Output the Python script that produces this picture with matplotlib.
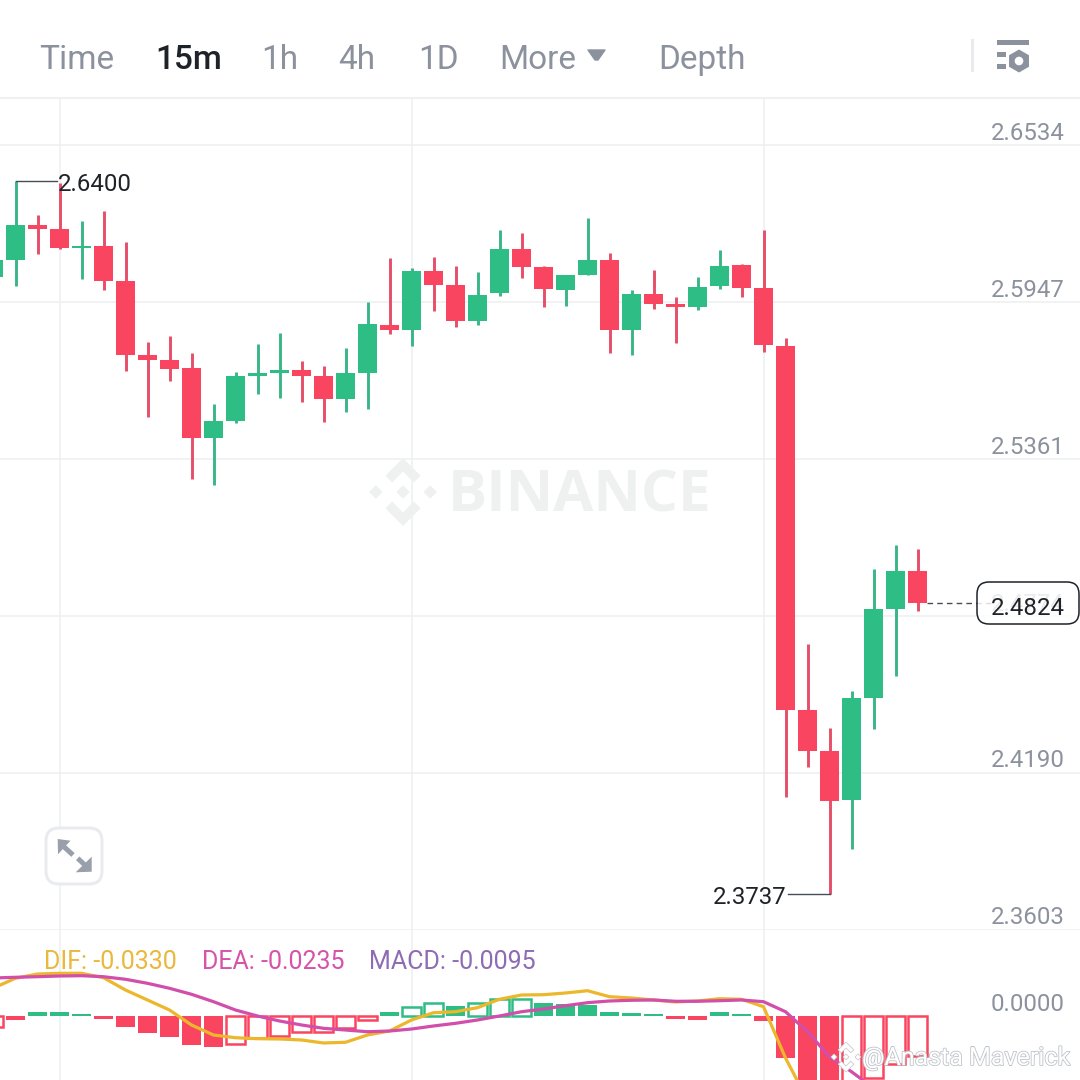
import matplotlib
matplotlib.use('Agg')
import matplotlib.pyplot as plt
from matplotlib.patches import FancyBboxPatch, Polygon, Circle, Rectangle
import matplotlib.patheffects as pe
import numpy as np

# candles, index -1 is the one cut off by the left edge
first_index = -1
opens = [2.6041, 2.6105, 2.6237, 2.6222, 2.6148, 2.6158, 2.6026, 2.5749, 2.5731, 2.5700,
         2.5441, 2.5504, 2.5670, 2.5683, 2.5694, 2.5673, 2.5586, 2.5683, 2.5863, 2.5843,
         2.6062, 2.6011, 2.5876, 2.5981, 2.6146, 2.6080, 2.5994, 2.6050, 2.6104, 2.5843,
         2.5976, 2.5941, 2.5929, 2.6006, 2.6086, 2.5999, 2.5784, 2.4423, 2.4270, 2.4087,
         2.4470, 2.4801, 2.4942]
closes = [2.6105, 2.6235, 2.6222, 2.6151, 2.6158, 2.6026, 2.5751, 2.5730, 2.5699, 2.5441,
          2.5504, 2.5670, 2.5682, 2.5694, 2.5673, 2.5586, 2.5683, 2.5865, 2.5842, 2.6064,
          2.6011, 2.5877, 2.5975, 2.6146, 2.6080, 2.5995, 2.6050, 2.6105, 2.5842, 2.5976,
          2.5940, 2.5928, 2.6005, 2.6083, 2.6000, 2.5786, 2.4424, 2.4272, 2.4086, 2.4470,
          2.4801, 2.4942, 2.4824]
highs = [2.6105, 2.6400, 2.6273, 2.6392, 2.6251, 2.6288, 2.6171, 2.5800, 2.5822, 2.5757,
         2.5567, 2.5686, 2.5791, 2.5832, 2.5728, 2.5709, 2.5775, 2.5949, 2.6113, 2.6074,
         2.6117, 2.6082, 2.6060, 2.6216, 2.6207, 2.6082, 2.6050, 2.6261, 2.6130, 2.5993,
         2.6067, 2.5968, 2.6040, 2.6141, 2.6088, 2.6217, 2.5815, 2.4671, 2.4356, 2.4496,
         2.4950, 2.5040, 2.5027]
lows = [2.6041, 2.6008, 2.6127, 2.6146, 2.6034, 2.5993, 2.5691, 2.5520, 2.5652, 2.5286,
        2.5266, 2.5495, 2.5605, 2.5588, 2.5576, 2.5500, 2.5536, 2.5549, 2.5829, 2.5785,
        2.5914, 2.5856, 2.5863, 2.5971, 2.6037, 2.5930, 2.5934, 2.6050, 2.5756, 2.5750,
        2.5921, 2.5795, 2.5919, 2.5998, 2.5968, 2.5762, 2.4098, 2.4212, 2.3737, 2.3905,
        2.4352, 2.4552, 2.4794]

price_ticks = [2.6534, 2.5947, 2.5361, 2.4774, 2.4190, 2.3603]
price_labels = ['2.6534', '2.5947', '2.5361', '2.4774', '2.4190', '2.3603']
time_grid = [2, 18, 34]

# macd panel
macd_hist = [-0.00245, -0.00084, 0.00101, 0.00101, 0.00060, -0.00053, -0.00245, -0.00404,
             -0.00486, -0.00685, -0.00741, -0.00661, -0.00524, -0.00462, -0.00366, -0.00366,
             -0.00284, -0.00084, 0.00101, 0.00236, 0.00332, 0.00260, 0.00317, 0.00414,
             0.00414, 0.00317, 0.00293, 0.00277, 0.00115, 0.00077, 0.00067, -0.00060,
             -0.00091, 0.00101, 0.00067, -0.00115, -0.01005, -0.0201, -0.0237, -0.0189,
             -0.0149, -0.01142, -0.0095]
hollow_bars = [-1, 10, 11, 12, 13, 14, 15, 16, 18, 19, 21, 22, 23, 38, 39, 40, 41]
dif = [0.00685, 0.00919, 0.01022, 0.01039, 0.01039, 0.00933, 0.00637, 0.00397, 0.00156,
       -0.00204, -0.00445, -0.00510, -0.00534, -0.00541, -0.00565, -0.00637, -0.00620,
       -0.00445, -0.00349, -0.00084, 0.00091, 0.00115, 0.00212, 0.00414, 0.00517, 0.00524,
       0.00565, 0.00620, 0.00476, 0.00445, 0.00397, 0.00349, 0.00373, 0.00428, 0.00414,
       0.00236, -0.00998, -0.0201, -0.0285, -0.0357, -0.0381, -0.0357, -0.0330]
dea = [0.00926, 0.00943, 0.00957, 0.00974, 0.00981, 0.00957, 0.00895, 0.00798, 0.00678,
       0.00534, 0.00356, 0.00156, 0.00012, -0.00108, -0.00204, -0.00284, -0.00325, -0.00366,
       -0.00349, -0.00301, -0.00228, -0.00164, -0.00084, 0.00012, 0.00115, 0.00180, 0.00260,
       0.00332, 0.00373, 0.00390, 0.00397, 0.00366, 0.00366, 0.00380, 0.00397, 0.00356,
       0.00115, -0.00366, -0.00967, -0.01328, -0.01720, -0.02056, -0.0235]

tabs = ['Time', '15m', '1h', '4h', '1D', 'More', 'Depth']
tab_x = [39, 155, 261, 338, 418, 499, 658]

GREEN = '#2EBD85'
RED = '#F9455F'
GREY = '#8B929E'
DARK = '#1E2329'
GRID = '#EFF0F2'
FONT = 'Roboto'

plt.rcParams['font.family'] = FONT

idx = np.arange(len(opens)) + first_index
opens = np.array(opens)
closes = np.array(closes)
highs = np.array(highs)
lows = np.array(lows)
colors = [GREEN if c >= o else RED for o, c in zip(opens, closes)]
wick_colors = ['#3AB587' if c >= o else '#E64F69' for o, c in zip(opens, closes)]

fig = plt.figure(figsize=(10.8, 10.8), dpi=100, facecolor='white')
ax = fig.add_axes([0, 150 / 1080, 1, 832 / 1080])
ax2 = fig.add_axes([0, 0, 1, 150 / 1080])
over = fig.add_axes([0, 0, 1, 1], facecolor='none')
over.set_xlim(0, 1080)
over.set_ylim(1080, 0)
over.axis('off')

xlim = (-15.5 / 22, (1080 - 15.5) / 22)
for a in (ax, ax2):
    a.set_xlim(xlim)
    a.set_xticks(time_grid)
    a.tick_params(length=0, labelbottom=False, labelleft=False)
    a.grid(True, color=GRID, lw=1.2)
    a.set_axisbelow(True)
    for s in a.spines.values():
        s.set_visible(False)
ax.set_ylim(2.3603, 2.67095)
ax.set_yticks(price_ticks)
ax2.set_ylim(-0.01527, 0.0208)
ax2.set_yticks([])

# watermark sits under the candles
def logo(axis, cx, cy, r, color, **kw):
    shapes = [[(0, -1), (.52, -.48), (.32, -.28), (0, -.6), (-.32, -.28), (-.52, -.48)],
              [(0, 1), (.52, .48), (.32, .28), (0, .6), (-.32, .28), (-.52, .48)],
              [(-1, 0), (-.8, -.2), (-.6, 0), (-.8, .2)],
              [(1, 0), (.8, -.2), (.6, 0), (.8, .2)],
              [(0, -.2), (.2, 0), (0, .2), (-.2, 0)]]
    for sh in shapes:
        pts = [(cx + r * px, cy + r * py) for px, py in sh]
        axis.add_patch(Polygon(pts, closed=True, facecolor=color, transform=over.transData, clip_on=False, **kw))

logo(ax, 403, 492, 34, '#EEF1F0', zorder=1, edgecolor='none')
ax.text(580, 497, 'BINANCE', transform=over.transData, ha='center', va='center', fontsize=42,
        fontweight='bold', family='Open Sans', color='#EEF1F0', zorder=1)

# candles
ax.vlines(idx, lows, highs, colors=wick_colors, lw=2.1, zorder=3)
ax.bar(idx, np.abs(closes - opens), bottom=np.minimum(opens, closes), width=0.875, color=colors,
       linewidth=0, zorder=4)

# high / low markers
hi = int(np.argmax(highs))
lo = int(np.argmin(lows))
ax.plot([idx[hi], idx[hi] + 1.9], [highs[hi], highs[hi]], color='#474D57', lw=1, zorder=5)
ax.annotate('%.4f' % highs[hi], (idx[hi] + 1.93, highs[hi]), xytext=(0, -4), textcoords='offset pixels',
            ha='left', va='center', fontsize=17.3, color=DARK, zorder=6)
ax.plot([idx[lo] - 1.9, idx[lo]], [lows[lo], lows[lo]], color='#474D57', lw=1, zorder=5)
ax.annotate('%.4f' % lows[lo], (idx[lo] - 1.95, lows[lo]), xytext=(0, -3), textcoords='offset pixels',
            ha='right', va='center', fontsize=17.3, color=DARK, zorder=6)

# price labels on the right, above their grid line
for t, lab in zip(price_ticks, price_labels):
    ax.annotate(lab, (1, t), xycoords=('axes fraction', 'data'), xytext=(-15, 12),
                textcoords='offset pixels', ha='right', va='center', fontsize=17.3, color=GREY, zorder=2,
                annotation_clip=False)

# last price line and box
ax.plot([idx[-1] + 0.43, 44.4], [closes[-1], closes[-1]], color='#474D57', lw=1, ls=(0, (4, 3)), zorder=5)
ax.add_patch(FancyBboxPatch((987, 592), 82, 22, boxstyle='round,pad=10,rounding_size=12', transform=over.transData,
                            facecolor=(1, 1, 1, 0.82), edgecolor=DARK, lw=1.1, clip_on=False, zorder=7))
ax.annotate('%.4f' % closes[-1], (1, closes[-1]), xycoords=('axes fraction', 'data'), xytext=(-15, -6),
            textcoords='offset pixels', ha='right', va='center', fontsize=17.3, color=DARK, zorder=8,
            annotation_clip=False)

# macd histogram
for i, v in zip(idx, macd_hist):
    c = GREEN if v > 0 else RED
    if i in hollow_bars:
        ax2.bar(i, v, width=0.82, facecolor='white', edgecolor=c, linewidth=1.8, zorder=3)
    else:
        ax2.bar(i, v, width=0.9, color=c, linewidth=0, zorder=3)
ax2.plot(idx, dif, color='#EDB72B', lw=2.3, zorder=4)
ax2.plot(idx, dea, color='#D14EAB', lw=2.3, zorder=5)
ax2.annotate('0.0000', (1, 0), xycoords=('axes fraction', 'data'), xytext=(-15, 12),
             textcoords='offset pixels', ha='right', va='center', fontsize=17.3, color=GREY)

over.text(44, 962, 'DIF: %.4f' % dif[-1], color='#E9B83C', fontsize=18, va='center')
over.text(202, 962, 'DEA: %.4f' % dea[-1], color='#D653A9', fontsize=18, va='center')
over.text(369, 962, 'MACD: %.4f' % macd_hist[-1], color='#8E6BB5', fontsize=18, va='center')

# header
over.plot([0, 1080], [98, 98], color=GRID, lw=1.5)
for t, x in zip(tabs, tab_x):
    active = t == '15m'
    over.text(x, 69, t, fontsize=24, color=DARK if active else GREY, fontweight=500 if active else 'normal',
              va='baseline')
over.add_patch(Polygon([(588, 50), (605, 50), (598, 60), (595, 60)], closed=True, color=GREY, joinstyle='round'))

# settings icon
over.add_patch(Rectangle((971, 39), 2.6, 33, color='#E9EAEE', lw=0))
over.add_patch(Rectangle((997, 40), 32, 5, color=GREY, lw=0))
over.add_patch(Rectangle((997, 52.3), 9, 5, color=GREY, lw=0))
over.add_patch(Rectangle((997, 64.3), 9, 5, color=GREY, lw=0))
ang = np.radians(np.arange(0, 360, 60) + 30)
over.add_patch(Polygon(np.c_[1019 + 11.5 * np.cos(ang), 61 + 11.5 * np.sin(ang)], closed=True, color=GREY, lw=0))
over.add_patch(Circle((1019, 61), 4.3, color='white', lw=0))

# expand button
over.add_patch(FancyBboxPatch((57, 839), 34, 34, boxstyle='round,pad=11,rounding_size=13', facecolor='white',
                              edgecolor='#E9EBEE', lw=2.2, zorder=2))
over.add_patch(Polygon([(57.7, 839), (70.5, 840.7), (58, 854.3)], closed=True, color='#99A0AB', lw=0, zorder=3))
over.add_patch(Polygon([(91.7, 871.7), (75.7, 872.3), (91.7, 856.7)], closed=True, color='#99A0AB', lw=0, zorder=3))
over.plot([62, 73], [845, 855], color='#99A0AB', lw=3.6, solid_capstyle='butt', zorder=3)
over.plot([77.7, 87], [858.3, 867], color='#99A0AB', lw=3.6, solid_capstyle='butt', zorder=3)

# signature over the bottom right corner
logo(over, 846, 1057, 15, 'white', edgecolor='#C9CCD1', lw=0.6, zorder=9)
over.text(862, 1058, '@Anasta Maverick', fontsize=18, color='white', va='center', zorder=9,
          path_effects=[pe.withStroke(linewidth=1.2, foreground='#BFC3C8')])

plt.savefig('out.png', dpi=100)
